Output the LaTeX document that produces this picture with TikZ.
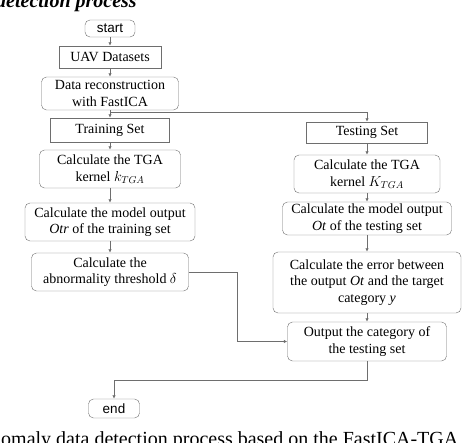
\documentclass[tikz,border=0pt]{standalone}
\usepackage{fontspec}
\setmainfont{Liberation Serif}
\setsansfont{Liberation Sans}
\usepackage{tikz}
\usetikzlibrary{arrows.meta,positioning}
\definecolor{EdgeGrey}{HTML}{6E6E6E}

\begin{document}
\begin{tikzpicture}[x=1pt,y=-1pt,
  pbox/.style={draw=EdgeGrey,rounded corners=5pt,align=center,
    font=\fontsize{14}{16.5}\selectfont,inner sep=1pt},
  rbox/.style={pbox,rounded corners=0pt},
  tbox/.style={pbox,font=\sffamily\fontsize{13.5}{15}\selectfont},
  arr/.style={-{Latex[length=3.5pt,width=3.5pt]},draw=EdgeGrey,line width=0.7pt}
]
  \useasboundingbox (0,0) rectangle (474,443);
  \clip (0,0) rectangle (474,443);

  % caption fragments
  \node[anchor=base west,inner sep=0pt,font=\fontsize{20}{22}\selectfont\bfseries\itshape] (cap1) at (-4,7.5) {detection process};
  \node[anchor=base west,inner sep=0pt,font=\fontsize{20}{22}\selectfont] (cap2) at (1,446) {omaly data detection process based on the FastICA-TGA};

  % shared start
  \node[tbox,minimum width=50pt,minimum height=17pt] (start) at (110,28.5) {start};
  \node[rbox,minimum width=102pt,minimum height=22pt] (uav) at (110,57) {UAV Datasets};
  \node[pbox,minimum width=137pt,minimum height=33pt] (recon) at (110,93.5) {Data reconstruction\\with FastICA};

  % training branch
  \node[rbox,minimum width=119pt,minimum height=24pt] (train) at (110,130) {Training Set};
  \node[pbox,minimum width=141pt,minimum height=38pt] (kl) at (110,169) {Calculate the TGA\\kernel $k_{TGA}$};
  \node[pbox,minimum width=170pt,minimum height=38pt] (ol) at (110,222) {Calculate the model output\\\textit{Otr} of the training set};
  \node[pbox,minimum width=157pt,minimum height=38pt] (thr) at (110,272) {Calculate the\\abnormality threshold $\delta$};

  % testing branch
  \node[rbox,minimum width=121pt,minimum height=21pt] (test) at (367,132.5) {Testing Set};
  \node[pbox,minimum width=146pt,minimum height=38pt] (kr) at (367,174) {Calculate the TGA\\kernel $K_{TGA}$};
  \node[pbox,minimum width=169pt,minimum height=33pt] (or) at (367,218.5) {Calculate the model output\\\textit{Ot} of the testing set};
  \node[pbox,minimum width=188pt,minimum height=61pt] (err) at (367,282.5) {Calculate the error between\\the output \textit{Ot} and the target\\category \textit{y}};
  \node[pbox,minimum width=159pt,minimum height=39pt] (out) at (367,341.5) {Output the category of\\the testing set};

  \node[tbox,minimum width=51pt,minimum height=19pt] (end) at (114,408.5) {end};

  \coordinate (split) at (110,112);
  \coordinate (thrbend) at (237,272);
  \coordinate (endbend) at (367,380);

  \draw[arr] (start)--(uav); \draw[arr] (uav)--(recon); \draw[arr] (recon)--(train);
  \draw[arr] (train)--(kl); \draw[arr] (kl)--(ol); \draw[arr] (ol)--(thr);
  \draw[arr] (split)-|(test);
  \draw[arr] (test)--(kr); \draw[arr] (kr)--(or); \draw[arr] (or)--(err); \draw[arr] (err)--(out);
  \draw[arr] (thr.east)--(thrbend)|-(out.west);
  \draw[arr] (out.south)--(endbend)-|(end.north);
\end{tikzpicture}
\end{document}
